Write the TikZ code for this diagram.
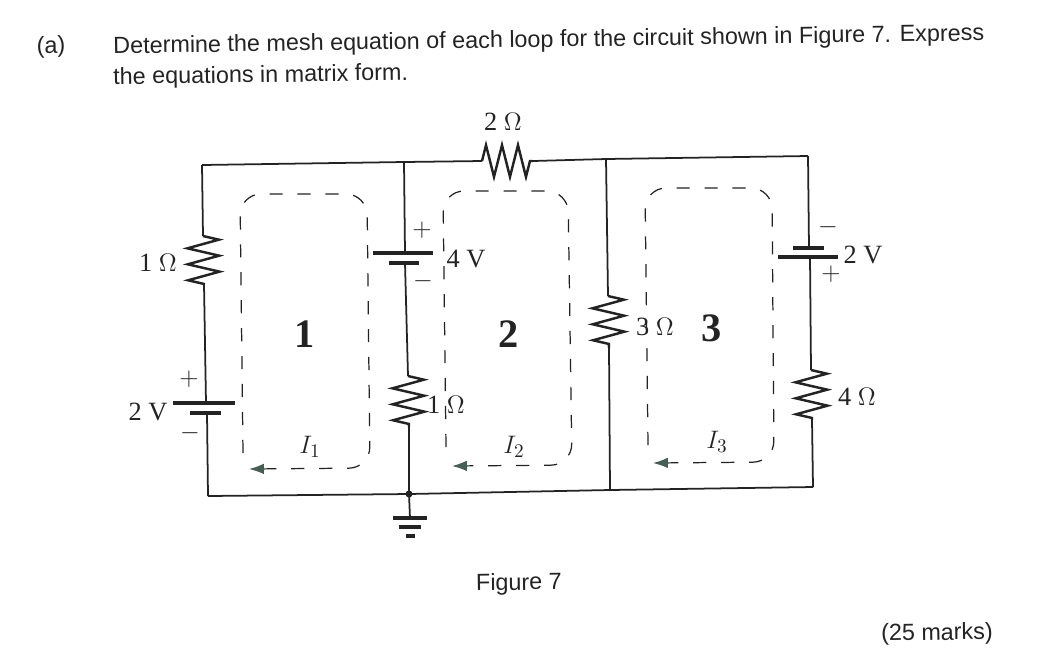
\documentclass[tikz,border=0pt]{standalone}
\usepackage{fontspec}
\setmainfont{Liberation Serif}
\newfontfamily\arialfont{Liberation Sans}
\usetikzlibrary{arrows.meta,decorations.pathmorphing}
\definecolor{inkgray}{RGB}{35,35,35}
\definecolor{tipgray}{RGB}{70,95,85}
\tikzset{
  wire/.style={inkgray, line width=1pt},
  res/.style={inkgray, line width=1.4pt, decorate, decoration={zigzag,segment length=9.1pt,amplitude=9pt}},
  plate/.style={inkgray, line width=1.8pt},
  meshloop/.style={inkgray, line width=0.7pt, dash pattern=on 7.5pt off 8.4pt, rounded corners=12pt,
    -{Latex[length=8.5pt,width=6pt,color=tipgray]}},
  question/.style={font=\arialfont\fontsize{13.3}{16}\selectfont, text=inkgray, rotate=0.85, inner sep=0pt},
  value/.style={font=\fontsize{15}{17}\selectfont, text=inkgray, inner sep=0pt},
  mesh/.style={font=\bfseries\fontsize{23}{26}\selectfont, text=inkgray, inner sep=0pt},
  current/.style={font=\itshape\fontsize{15}{17}\selectfont, text=inkgray, inner sep=0pt},
}
\begin{document}
\begin{tikzpicture}[x=0.02cm,y=-0.02cm]
    \useasboundingbox (0,0) rectangle (1061,664);

    % Enunciado
    \node[question] (partlabel) at (51,47) {(a)};
    \node[question, anchor=west] (lineone) at (113,47.5) {Determine the mesh equation of each loop for the circuit shown in Figure 7. Express};
    \node[question, anchor=west] (linetwo) at (113,78.5) {the equations in matrix form.};
    \node[question] (figlabel) at (519,584) {Figure 7};
    \node[question] (marks) at (937,634) {(25 marks)};

    % Esquinas y uniones
    \coordinate (tl) at (202,165);
    \coordinate (tm) at (404,162);
    \coordinate (tn) at (606,159);
    \coordinate (tr) at (808,156);
    \coordinate (bl) at (208,496);
    \coordinate (bm) at (409,494);
    \coordinate (bn) at (610,490);
    \coordinate (br) at (813,487);

    % Rama izquierda
    \coordinate (ronea) at (203,236);
    \coordinate (roneb) at (204,284);
    \coordinate (vonea) at (206,403);
    \coordinate (voneb) at (207,413);
    \draw[wire] (tl) -- (ronea);
    \draw[res] (ronea) -- (roneb);
    \draw[wire] (roneb) -- (vonea);
    \draw[wire] (voneb) -- (bl);
    \draw[plate] (173,403) -- (235,403);
    \draw[plate] (190,413) -- (221,413);

    % Rama central
    \coordinate (vtwoa) at (405,253);
    \coordinate (vtwob) at (405,263);
    \coordinate (rtwoa) at (408,376);
    \coordinate (rtwob) at (409,427);
    \draw[wire] (tm) -- (vtwoa);
    \draw[wire] (vtwob) -- (rtwoa);
    \draw[res] (rtwoa) -- (rtwob);
    \draw[wire] (rtwob) -- (bm);
    \draw[plate] (373,253) -- (433,253);
    \draw[plate] (389,263) -- (419,263);

    % Resistencia de arriba
    \coordinate (rthreea) at (482,161);
    \coordinate (rthreeb) at (533,161);
    \draw[wire] (tl) -- (tm) -- (rthreea);
    \draw[res] (rthreea) -- (rthreeb);
    \draw[wire] (rthreeb) -- (tn) -- (tr);

    % Rama de 3 ohm
    \coordinate (rfoura) at (608,296);
    \coordinate (rfourb) at (609,348);
    \draw[wire] (tn) -- (rfoura);
    \draw[res] (rfoura) -- (rfourb);
    \draw[wire] (rfourb) -- (bn);

    % Rama derecha
    \coordinate (vfoura) at (809,248);
    \coordinate (vfourb) at (810,257);
    \coordinate (rfivea) at (811,370);
    \coordinate (rfiveb) at (812,420);
    \draw[wire] (tr) -- (vfoura);
    \draw[wire] (vfourb) -- (rfivea);
    \draw[res] (rfivea) -- (rfiveb);
    \draw[wire] (rfiveb) -- (br);
    \draw[plate] (793,248) -- (824,248);
    \draw[plate] (778,257) -- (838,257);

    % Abajo y tierra
    \draw[wire] (bl) -- (bm) -- (bn) -- (br);
    \fill[inkgray] (bm) circle (2pt);
    \coordinate (gnd) at (410,518);
    \draw[wire] (bm) -- (gnd);
    \draw[plate] (393,518) -- (427,518);
    \draw[plate] (399,527) -- (421,527);
    \draw[plate] (406,536) -- (415,536);

    % Corrientes de malla
    \draw[meshloop] (243,453) -- (240,194) -- (367,194) -- (370,468) -- (249,469);
    \draw[meshloop] (446,447) -- (443,191) -- (568,191) -- (572,465) -- (452,466);
    \draw[meshloop] (648,445) -- (645,188) -- (772,188) -- (774,462) -- (653,463);

    % Leyendas
    \node[value] (rtoplabel) at (503,122) {2 $\Omega$};
    \node[value] (ronelabel) at (158,263) {1 $\Omega$};
    \node[value] (vonelabel) at (148,412) {2 V};
    \node[value] (voneplus) at (189,379) {$+$};
    \node[value] (voneminus) at (190,433) {$-$};
    \node[value] (vtwoplus) at (422,230) {$+$};
    \node[value] (vtwominus) at (423,281) {$-$};
    \node[value] (vtwolabel) at (466,259) {4 V};
    \node[value] (rtwolabel) at (446,405) {1 $\Omega$};
    \node[value] (rfourlabel) at (655,327) {3 $\Omega$};
    \node[value] (vfourminus) at (828,227) {$-$};
    \node[value] (vfourplus) at (831,274) {$+$};
    \node[value] (vfourlabel) at (863,255) {2 V};
    \node[value] (rfivelabel) at (857,397) {4 $\Omega$};
    \node[mesh] (meshone) at (305,334) {1};
    \node[mesh] (meshtwo) at (509,334) {2};
    \node[mesh] (meshthree) at (712,328) {3};
    \node[current] (ione) at (310,447) {$I_1$};
    \node[current] (itwo) at (514,447) {$I_2$};
    \node[current] (ithree) at (717,442) {$I_3$};

\end{tikzpicture}
\end{document}
